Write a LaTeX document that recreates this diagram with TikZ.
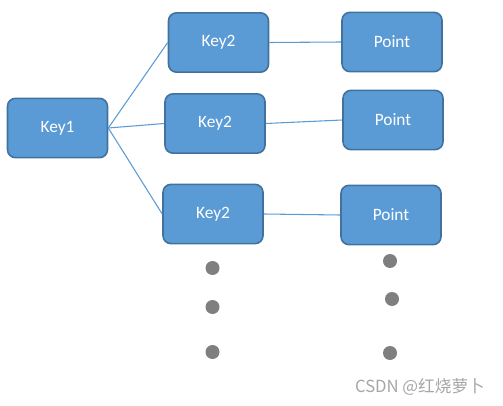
\documentclass[tikz,border=0pt]{standalone}
\usepackage{fontspec}
\setmainfont{Carlito}
\newfontfamily\cjkfont{Noto Sans CJK SC}
\usetikzlibrary{positioning}
\definecolor{boxfill}{HTML}{5B9BD5}
\definecolor{boxline}{HTML}{41719C}
\definecolor{dotgray}{HTML}{7F7F7F}
\tikzset{
  keybox/.style={draw=boxline, line width=1.2pt, fill=boxfill, rounded corners=6pt,
    minimum width=75pt, minimum height=44.5pt, text=white, font=\fontsize{13}{15}\selectfont},
  link/.style={draw=boxfill, line width=0.8pt}
}
\begin{document}
\begin{tikzpicture}[x=0.75pt, y=-0.75pt]
  \useasboundingbox (0,0) rectangle (503,406);
  % Root
  \node[keybox] (key1) at (57.5,128) {Key1};

  % Second level keys
  \node[keybox] (k2top) at (218.5,42.5) {Key2};
  \node[keybox] (k2mid) at (215,123.5) {Key2};
  \node[keybox] (k2bot) at (213,214) {Key2};

  % Points
  \node[keybox] (ptop) at (392,42) {Point};
  \node[keybox] (pmid) at (393,120) {Point};
  \node[keybox] (pbot) at (391,215) {Point};

  % Links
  \draw[link] (key1.east) -- (k2top.west);
  \draw[link] (key1.east) -- (k2mid.west);
  \draw[link] (key1.east) -- (k2bot.west);
  \draw[link] (k2top.east) -- (ptop.west);
  \draw[link] (k2mid.east) -- (pmid.west);
  \draw[link] (k2bot.east) -- (pbot.west);

  % Dots
  \foreach \y in {268,307,352} \fill[dotgray] (212.5,\y) circle (7);
  \foreach \x/\y in {390/261,392/299,390/353} \fill[dotgray] (\x,\y) circle (7);

  % Watermark
  \node[text=gray!70, font=\cjkfont\fontsize{12.5}{14}\selectfont] (mark) at (420,387) {CSDN @红烧萝卜};
\end{tikzpicture}
\end{document}
